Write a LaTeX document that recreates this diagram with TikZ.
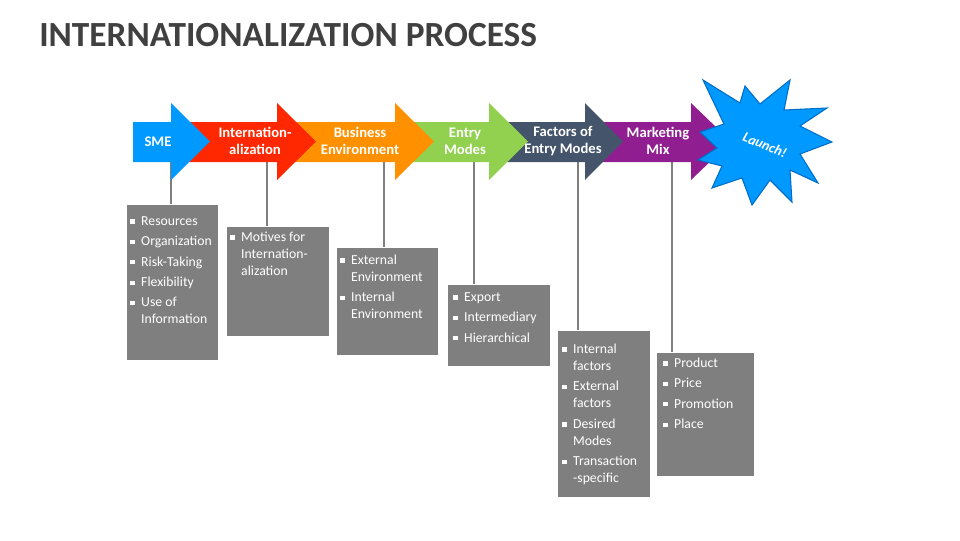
\documentclass[tikz,border=0pt]{standalone}
\usepackage{fontspec}
\setmainfont{Carlito}
\begin{document}
\begin{tikzpicture}[x=0.75pt,y=-0.75pt,
  box/.style={fill=boxgray,draw=white,line width=0.6pt,anchor=north west,inner sep=0pt},
  btxt/.style={anchor=north west,text=white,font=\fontsize{10.3}{12.8}\selectfont,align=left,inner sep=0pt},
  lbl/.style={text=white,font=\bfseries\fontsize{11}{12.5}\selectfont,align=center},
  conn/.style={draw=linegray,line width=1.2pt}]
\definecolor{boxgray}{RGB}{127,127,127}
\definecolor{linegray}{RGB}{127,127,127}
\definecolor{cA}{RGB}{0,153,255}
\definecolor{cB}{RGB}{255,40,0}
\definecolor{cC}{RGB}{255,145,0}
\definecolor{cD}{RGB}{146,208,80}
\definecolor{cE}{RGB}{68,84,106}
\definecolor{cF}{RGB}{145,30,145}
\definecolor{title}{RGB}{64,64,64}
\newcommand{\bl}{\rule[0.25ex]{3.2pt}{3.2pt}}
\useasboundingbox (0,0) rectangle (960,540);
\node[anchor=west,text=title,font=\bfseries\fontsize{26.5}{30}\selectfont,inner sep=0pt] (t) at (39,35) {INTERNATIONALIZATION PROCESS};
% connectors
\coordinate (p1) at (171,150); \coordinate (p2) at (267,150); \coordinate (p3) at (384,150);
\coordinate (p4) at (474,150); \coordinate (p5) at (578,150); \coordinate (p6) at (672,150);
% boxes
\node[box,minimum width=69pt,minimum height=117pt] (b1) at (126,204) {};
\node[box,minimum width=77.25pt,minimum height=82.5pt] (b2) at (226,226) {};
\node[box,minimum width=76.5pt,minimum height=81pt] (b3) at (336,247) {};
\node[box,minimum width=77.25pt,minimum height=61.5pt] (b4) at (447,284) {};
\node[box,minimum width=69.75pt,minimum height=125.25pt] (b5) at (557,330) {};
\node[box,minimum width=73.5pt,minimum height=93pt] (b6) at (656,352) {};
\draw[conn] (p1) -- (b1.north -| p1);
\draw[conn] (p2) -- (b2.north -| p2);
\draw[conn] (p3) -- (b3.north -| p3);
\draw[conn] (p4) -- (b4.north -| p4);
\draw[conn] (p5) -- (b5.north -| p5);
\draw[conn] (p6) -- (b6.north -| p6);
\node[btxt] (x1) at (130,213) {\begin{tabular}{@{}l@{\hspace{5pt}}l@{}}\bl&Resources\\[2.5pt]\bl&Organization\\[2.5pt]\bl&Risk-Taking\\[2.5pt]\bl&Flexibility\\[2.5pt]\bl&Use of\\&Information\end{tabular}};
\node[btxt] (x2) at (230,229) {\begin{tabular}{@{}l@{\hspace{5pt}}l@{}}\bl&Motives for\\&Internation-\\&alization\end{tabular}};
\node[btxt] (x3) at (340,252) {\begin{tabular}{@{}l@{\hspace{5pt}}l@{}}\bl&External\\&Environment\\[2.5pt]\bl&Internal\\&Environment\end{tabular}};
\node[btxt] (x4) at (453,289) {\begin{tabular}{@{}l@{\hspace{5pt}}l@{}}\bl&Export\\[2.5pt]\bl&Intermediary\\[2.5pt]\bl&Hierarchical\end{tabular}};
\node[btxt] (x5) at (562,341) {\begin{tabular}{@{}l@{\hspace{5pt}}l@{}}\bl&Internal\\&factors\\[2.5pt]\bl&External\\&factors\\[2.5pt]\bl&Desired\\&Modes\\[2.5pt]\bl&Transaction\\&-specific\end{tabular}};
\node[btxt] (x6) at (663,355) {\begin{tabular}{@{}l@{\hspace{5pt}}l@{}}\bl&Product\\[2.5pt]\bl&Price\\[2.5pt]\bl&Promotion\\[2.5pt]\bl&Place\end{tabular}};
% arrows right to left
\newcommand{\arr}[4]{\fill[#4] (#1,122) -- (#2,122) -- (#2,103) -- (#3,141.5) -- (#2,180) -- (#2,162) -- (#1,162) -- cycle;}
\arr{585}{691}{731}{cF}
\arr{489}{585}{623}{cE}
\arr{395}{489}{528}{cD}
\arr{277}{395}{434}{cC}
\arr{171}{277}{316}{cB}
\arr{133}{171}{210}{cA}
\node[lbl] (l1) at (158,142) {SME};
\node[lbl] (l2) at (255,141) {Internation-\\alization};
\node[lbl] (l3) at (360,141) {Business\\Environment};
\node[lbl] (l4) at (465,141) {Entry\\Modes};
\node[lbl] (l5) at (563,141) {Factors of\\Entry Modes};
\node[lbl] (l6) at (658,141) {Marketing\\Mix};
% star
\fill[cA,draw={rgb,255:red,0;green,110;blue,200},line width=0.8pt]
 (703,80) -- (740,103) -- (745,86) -- (760,104) -- (790,80) -- (784,110) -- (827,108) -- (800,126)
 -- (832,142) -- (800,154) -- (818,183) -- (790,170) -- (792,202) -- (770,180) -- (752,205)
 -- (742,178) -- (712,188) -- (722,166) -- (698,160) -- (717,148) -- (700,132) -- (724,124) -- cycle;
\node[text=white,font=\bfseries\itshape\fontsize{10.5}{12}\selectfont,rotate=-22] (ln) at (765,145) {Launch!};
\end{tikzpicture}
\end{document}
